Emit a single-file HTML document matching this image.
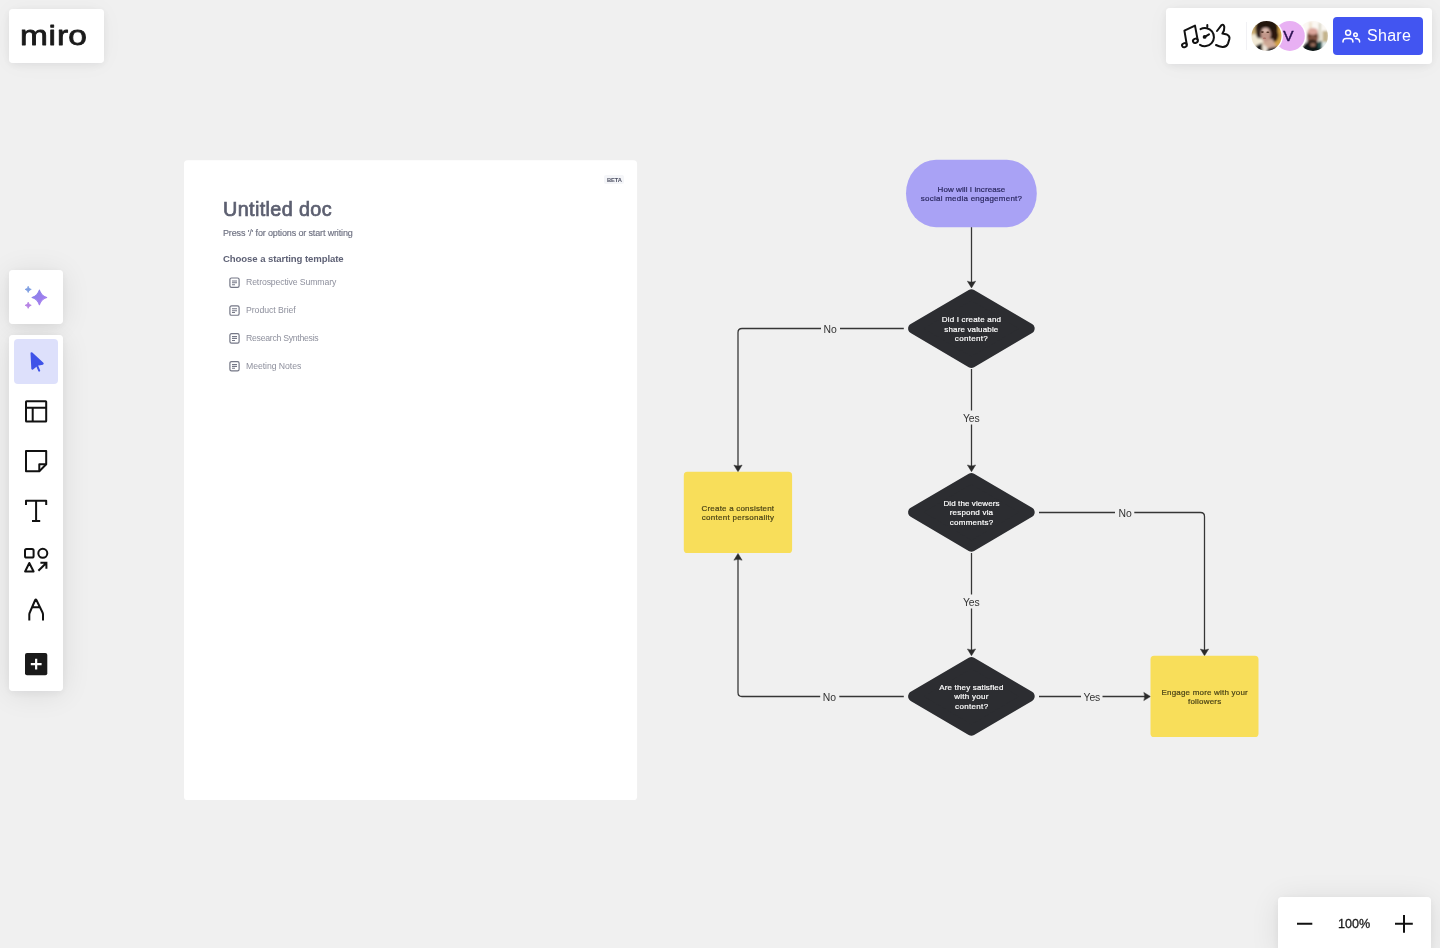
<!DOCTYPE html>
<html lang="en">
<head>
<meta charset="utf-8">
<title>Miro board</title>
<style>
*{box-sizing:border-box;margin:0;padding:0}
html,body{width:1440px;-webkit-font-smoothing:antialiased;height:948px;overflow:hidden;background:#f0f0f0;font-family:"Liberation Sans",sans-serif;}
#stage{position:absolute;left:0;top:0;width:1440px;height:948px;overflow:hidden;background:#f0f0f0}
.abs{position:absolute}
svg,.t{will-change:transform}
.panel{position:absolute;background:#fff;border-radius:4px}
.sh{position:absolute;border-radius:4px;box-shadow:0 2px 10px rgba(5,0,30,.07),0 1px 24px rgba(5,0,30,.035)}
.sh.p2{box-shadow:0 2px 10px rgba(5,0,30,.06),0 3px 30px rgba(5,0,30,.09)}
#canvas{position:absolute;left:0;top:0;width:1440px;height:948px}
.t{position:absolute;white-space:nowrap;line-height:1}
</style>
</head>
<body>
<div id="stage">
<!-- ======== document widget ======== -->
<svg class="abs" style="left:180px;top:156px" width="462" height="648" viewBox="180 156 462 648"><rect x="183.95" y="160.3" width="453.15" height="639.7" rx="3.6" fill="#fff"/></svg>
<div class="abs" style="left:604px;top:175px;width:19.5px;height:9px;background:#f4f5f8;border-radius:2px"></div>
<div class="t" id="beta" style="left:606.6px;top:178px;font-size:5.8px;font-weight:700;color:#4d5063;letter-spacing:-.1px">BETA</div>
<div class="t" id="title" style="left:223.2px;top:199.6px;font-size:19.8px;color:#5c5f70;-webkit-text-stroke:.7px #5c5f70;letter-spacing:.38px">Untitled doc</div>
<div class="t" id="sub" style="left:223px;top:228.5px;font-size:9px;color:#6d7080;-webkit-text-stroke:.15px #6d7080;letter-spacing:-.14px">Press '/' for options or start writing</div>
<div class="t" id="choose" style="left:223.1px;top:254px;font-size:9.6px;font-weight:700;color:#5f6276;letter-spacing:-.1px">Choose a starting template</div>

<svg class="abs" style="left:228px;top:276px" width="14" height="100" viewBox="0 0 14 100">
  <g fill="none" stroke="#747786" stroke-width="1.2">
    <g id="di"><rect x="1.9" y="2" width="9.2" height="9.4" rx="1.6"/><path d="M4 4.9h5M4 6.8h5M4 8.7h3" stroke-width="1.05"/></g>
    <use href="#di" y="27.85"/><use href="#di" y="55.7"/><use href="#di" y="83.55"/>
  </g>
</svg>
<div class="t tpl" style="left:246.4px;top:278.30px;font-size:8.7px;color:#8e909d;letter-spacing:-0.12px">Retrospective Summary</div>
<div class="t tpl" style="left:246.4px;top:306.15px;font-size:8.7px;color:#8e909d;letter-spacing:-0.04px">Product Brief</div>
<div class="t tpl" style="left:246.4px;top:334.00px;font-size:8.7px;color:#8e909d;letter-spacing:-0.27px">Research Synthesis</div>
<div class="t tpl" style="left:246.4px;top:361.85px;font-size:8.7px;color:#8e909d;letter-spacing:-0.06px">Meeting Notes</div>

<!-- ======== flowchart ======== -->
<svg id="canvas" viewBox="0 0 1440 948" width="1440" height="948">
  <defs>
    <path id="ah" d="M0 -.2 L-4.1 -6.9 Q0 -5.1 4.1 -6.9 Z" fill="#2a2a2a" stroke="#2a2a2a" stroke-width=".5" stroke-linejoin="round"/>
  </defs>
  <g fill="none" stroke="#363636" stroke-width="1.28">
    <path d="M971.5 227 V284"/>
    <path d="M971.5 369 V410.6 M971.5 424.4 V468"/>
    <path d="M971.5 553 V594.6 M971.5 608.4 V652"/>
    <path d="M903.8 328.5 H840 M821 328.5 H742 Q738 328.5 738 332.5 V467.5"/>
    <path d="M1039 512.5 H1115 M1134.3 512.5 H1200.5 Q1204.5 512.5 1204.5 516.5 V651.5"/>
    <path d="M903.8 696.5 H839.3 M820.2 696.5 H742 Q738 696.5 738 692.5 V558"/>
    <path d="M1039 696.5 H1081 M1102.5 696.5 H1146.5"/>
  </g>
  <use href="#ah" transform="translate(971.5 288.1)"/>
  <use href="#ah" transform="translate(971.5 471.9)"/>
  <use href="#ah" transform="translate(971.5 655.9)"/>
  <use href="#ah" transform="translate(738 472)"/>
  <use href="#ah" transform="translate(1204.5 656)"/>
  <use href="#ah" transform="translate(738 553.3) rotate(180)"/>
  <use href="#ah" transform="translate(1150.7 696.5) rotate(-90)"/>

  <rect x="906" y="159.75" width="130.8" height="67.4" rx="30" ry="33.7" fill="#a9a2f5"/>
  <g fill="#2c2d31" stroke="#2c2d31" stroke-width="10.6" stroke-linejoin="round">
    <path d="M971.4 294.50 L1029.43 328.55 L971.4 362.60 L913.37 328.55 Z"/>
    <path d="M971.4 478.25 L1029.43 512.3 L971.4 546.35 L913.37 512.3 Z"/>
    <path d="M971.4 662.35 L1029.43 696.4 L971.4 730.45 L913.37 696.4 Z"/>
  </g>
  <rect x="683.8" y="471.8" width="108.3" height="81.2" rx="3.6" fill="#f8de5a"/>
  <rect x="1150.5" y="655.8" width="108" height="81.2" rx="3.6" fill="#f8de5a"/>

  <g font-family="'Liberation Sans',sans-serif" font-size="8" text-anchor="middle" stroke-width=".2">
    <g fill="#2b2860" stroke="#2b2860">
      <text x="971.4" y="191.9" textLength="67.7">How will I increase</text>
      <text x="971.4" y="200.9" textLength="101.2">social media engagement?</text>
    </g>
    <g fill="#fff" stroke="#fff">
      <text x="971.4" y="322" textLength="59.1">Did I create and</text>
      <text x="971.3" y="331.6" textLength="54">share valuable</text>
      <text x="971.3" y="340.9" textLength="32.9">content?</text>
      <text x="971.5" y="506" textLength="56">Did the viewers</text>
      <text x="971.4" y="515.4" textLength="43.3">respond via</text>
      <text x="971.5" y="524.6" textLength="43.6">comments?</text>
      <text x="971.3" y="689.8" textLength="64.2">Are they satisfied</text>
      <text x="971.3" y="699.2" textLength="34">with your</text>
      <text x="971.6" y="708.6" textLength="33">content?</text>
    </g>
    <g fill="#4a4316" stroke="#4a4316">
      <text x="737.8" y="510.9" textLength="72.6">Create a consistent</text>
      <text x="737.9" y="519.9" textLength="72.4">content personality</text>
      <text x="1204.6" y="694.6" textLength="86.3">Engage more with your</text>
      <text x="1204.6" y="703.6" textLength="33.3">followers</text>
    </g>
    <g fill="#333" font-size="10.4" stroke="none">
      <text x="830.2" y="332.5">No</text>
      <text x="1125.1" y="516.5">No</text>
      <text x="829.5" y="700.5">No</text>
      <text x="971.3" y="421.7" textLength="16.6">Yes</text>
      <text x="971.3" y="605.7" textLength="16.6">Yes</text>
      <text x="1091.9" y="700.5" textLength="16.6">Yes</text>
    </g>
  </g>
</svg>

<!-- ======== panel shadows ======== -->
<div class="sh" style="left:9px;top:9px;width:95px;height:54px"></div>
<div class="sh" style="left:1166px;top:8px;width:266px;height:56px"></div>
<div class="sh p2" style="left:9px;top:270px;width:54px;height:54px"></div>
<div class="sh p2" style="left:9px;top:335px;width:54px;height:355.5px"></div>
<div class="sh p2" style="left:1278px;top:897px;width:153px;height:56px"></div>

<!-- ======== logo ======== -->
<div class="panel" style="left:9px;top:9px;width:95px;height:54px"></div>
<svg class="abs" style="left:9px;top:9px" width="95" height="54" viewBox="9 9 95 54"><g transform="translate(0 44.7) scale(1.195 1)"><text id="logo" x="16.74 40.66 47.80 57.07" y="0" font-family="'Liberation Sans',sans-serif" font-size="28" fill="#1a1a1a" stroke="#1a1a1a" stroke-width="0.8" stroke-linejoin="round">miro</text></g></svg>

<!-- ======== top right panel ======== -->
<div class="panel" style="left:1166px;top:8px;width:266px;height:56px"></div>
<svg class="abs" style="left:1174px;top:16px" width="64" height="40" viewBox="0 0 64 40">
  <g fill="none" stroke="#111" stroke-width="2" stroke-linecap="round" stroke-linejoin="round">
    <ellipse cx="10.4" cy="29.2" rx="2.4" ry="2" transform="rotate(-20 10.4 29.2)"/>
    <path d="M12.7 28.2 L10.4 14.7 L21 9.6 L23.6 23.6"/>
    <ellipse cx="21.4" cy="24.8" rx="2.5" ry="2.1" transform="rotate(-20 21.4 24.8)"/>
    <path d="M26.5 13.1 A9.1 9.1 0 1 1 26 28.8"/>
    <path d="M33.3 9 V11"/>
    <path d="M30.8 20.8 L35 18.3"/>
    <path d="M43 15 L47.3 9.3 Q49.6 7.6 50.3 11 Q50.6 14.5 48.4 17.6 L53 18.6 Q56 20 55.4 23 L54 27.6 Q52.5 31.3 48.4 31 Q45 30.6 42 29"/>
  </g>
  <circle cx="30.6" cy="20.9" r="1.9" fill="#111"/>
</svg>
<div class="abs" style="left:1246px;top:22px;width:1px;height:28px;background:#f1f1f4"></div>

<svg class="abs" style="left:1248px;top:18px" width="84" height="36" viewBox="0 0 84 36">
  <defs>
    <clipPath id="c1"><circle cx="15" cy="15" r="15"/></clipPath>
    <filter id="b1" x="-30%" y="-30%" width="160%" height="160%"><feGaussianBlur stdDeviation="0.9"/></filter>
    <filter id="b2" x="-30%" y="-30%" width="160%" height="160%"><feGaussianBlur stdDeviation="0.6"/></filter>
  </defs>
  <!-- avatar 3 -->
  <g transform="translate(50 2.9)" clip-path="url(#c1)">
    <g filter="url(#b1)">
      <rect x="-6" y="-6" width="42" height="42" fill="#fbf8f3"/>
      <rect x="11" y="1" width="3" height="7" fill="#efe3d0"/>
      <rect x="20.8" y="2" width="2.2" height="20" fill="#d5d2c0"/>
      <rect x="24.4" y="10" width="6" height="12" fill="#c4b48c"/>
      <rect x="23.4" y="21" width="8" height="8" fill="#dfeae8"/>
      <path d="M-2 36 L5 25 Q8 20.5 11 20.5 L19 21 L23.8 20.6 L23.8 27.5 L21 36 Z" fill="#0b1615"/>
      <path d="M19.4 21.4 L23.8 20.4 L24 27.6 L20.4 28 Z" fill="#27524f"/>
      <ellipse cx="14.6" cy="16.2" rx="5.9" ry="8.6" fill="#8b5a48"/>
      <ellipse cx="14.8" cy="10.4" rx="5.2" ry="3.4" fill="#dba59b"/>
      <ellipse cx="14.2" cy="21.4" rx="5" ry="3.4" fill="#3b251e"/>
      <ellipse cx="15" cy="24" rx="2.6" ry="1.7" fill="#a37663"/>
      <path d="M10.4 15.2 h3.2 M15.6 15.2 h3.2" stroke="#2e1912" stroke-width="1.4"/>
    </g>
  </g>
  <!-- avatar 2 -->
  <circle cx="41.8" cy="17.9" r="16.6" fill="#fff"/>
  <circle cx="41.8" cy="17.9" r="15" fill="#e8b0f3"/>
  <text x="40.5" y="22.8" font-family="'Liberation Sans',sans-serif" font-size="15.4" fill="#2a1050" stroke="#2a1050" stroke-width=".45" text-anchor="middle">V</text>
  <!-- avatar 1 -->
  <circle cx="18.5" cy="17.9" r="16.4" fill="#fff"/>
  <g transform="translate(3.5 2.9)" clip-path="url(#c1)">
    <g filter="url(#b1)">
      <rect x="-6" y="-6" width="42" height="42" fill="#d3a246"/>
      <path d="M-6 -6 L7 -6 L8 16 L-6 18 Z" fill="#c9ac72"/>
      <path d="M-6 14 L7 13 L13 20 L10 26 L-6 26 Z" fill="#f3ead6"/>
      <ellipse cx="15.2" cy="7.5" rx="11.2" ry="11.5" fill="#24140f"/>
      <ellipse cx="22.4" cy="14.5" rx="4.6" ry="6.4" fill="#2a1811"/>
      <ellipse cx="7.4" cy="12" rx="3" ry="5.6" fill="#33201a"/>
      <path d="M11.5 18 L21 18 L25.5 27 L22 31 L12 31 Z" fill="#cfa996"/>
      <ellipse cx="14.3" cy="13.6" rx="5" ry="7" fill="#c2978a"/>
      <ellipse cx="13.8" cy="9" rx="3.4" ry="2" fill="#dcbcb0"/>
      <path d="M2 36 L4.6 24.6 L10.6 22 L11.6 36 Z" fill="#1c1c1f"/>
      <path d="M10.8 23 L13 24 L18 28.5 L18 36 L11 36 Z" fill="#ede4d9"/>
      <path d="M13 36 L16.4 27.6 L25.6 25.6 L30 36 Z" fill="#18181a"/>
    </g>
    <g filter="url(#b2)">
      <ellipse cx="10.9" cy="11.2" rx="1.5" ry=".8" fill="#4a2d22"/>
      <ellipse cx="16.3" cy="11.4" rx="1.5" ry=".8" fill="#4a2d22"/>
      <ellipse cx="13" cy="17.3" rx="1.6" ry=".6" fill="#a9685d"/>
    </g>
  </g>
</svg>

<div class="abs" style="left:1333px;top:17px;width:90px;height:38px;background:#4255f1;border-radius:4px"></div>
<svg class="abs" style="left:1340px;top:26px" width="24" height="20" viewBox="0 0 24 20">
  <g fill="none" stroke="#fff" stroke-width="1.5" stroke-linecap="round" stroke-linejoin="round">
    <circle cx="8.1" cy="6.8" r="2.5"/>
    <path d="M3 16 V15.6 Q3 12.4 6.2 12.4 H9.7 Q12.9 12.4 12.9 15.6 V16"/>
    <circle cx="15.5" cy="8.8" r="1.75"/>
    <path d="M15.6 12.6 Q19.6 12.6 19.6 16"/>
  </g>
</svg>
<div class="t" id="share" style="left:1366.7px;top:27.5px;font-size:16px;color:#fff;letter-spacing:.3px">Share</div>

<!-- ======== left toolbar ======== -->
<div class="panel p2" style="left:9px;top:270px;width:54px;height:54px"></div>
<svg class="abs" style="left:16px;top:278px" width="40" height="40" viewBox="0 0 40 40">
  <defs>
    <linearGradient id="g1" x1="0" y1="0" x2="1" y2="1"><stop offset="0" stop-color="#7f7fe6"/><stop offset="1" stop-color="#b07ff2"/></linearGradient>
    <path id="st" d="M0 -.94 C.16 -.42 .42 -.16 .94 0 C.42 .16 .16 .42 0 .94 C-.16 .42 -.42 .16 -.94 0 C-.42 -.16 -.16 -.42 0 -.94Z"/>
  </defs>
  <use href="#st" transform="translate(23.4 19.4) scale(7.8)" fill="url(#g1)" stroke="url(#g1)" stroke-width=".14" stroke-linejoin="round"/>
  <use href="#st" transform="translate(12.2 11.4) scale(3.2)" fill="#7f9fe2" stroke="#7f9fe2" stroke-width=".3" stroke-linejoin="round"/>
  <use href="#st" transform="translate(12.2 27.3) scale(3.2)" fill="#b682e4" stroke="#b682e4" stroke-width=".3" stroke-linejoin="round"/>
</svg>

<div class="panel p2" style="left:9px;top:335px;width:54px;height:355.5px"></div>
<div class="abs" style="left:13.5px;top:339px;width:44.5px;height:45px;border-radius:4px;background:#dde0fb"></div>
<svg class="abs" style="left:0;top:335px" width="72" height="356" viewBox="0 335 72 356">
  <!-- cursor -->
  <path d="M31.6 353.3 L42.6 363.6 L37.3 364.7 L32.4 368.6 Z" fill="#3f53e8" stroke="#3f53e8" stroke-width="2.2" stroke-linejoin="round"/>
  <path d="M37 365.5 L39.2 370.6" stroke="#3f53e8" stroke-width="2" stroke-linecap="round" fill="none"/>
  <g fill="none" stroke="#111" stroke-width="2" stroke-linejoin="round">
    <!-- templates -->
    <rect x="26" y="401.2" width="20.2" height="20.4" rx=".6"/>
    <path d="M26 407.8 H46 M32.7 407.8 V421.5"/>
    <!-- sticky -->
    <path d="M26 451 H46.2 V464.3 L39.3 471.2 H26 Z"/>
    <path d="M46.2 464.3 H39.3 V471.2"/>
    <!-- text -->
    <path d="M26 505 V500.8 H46.2 V505 M36.1 500.8 V521 M32 521 H40.2" stroke-linecap="butt"/>
    <!-- shapes -->
    <rect x="25" y="549" width="8.6" height="8.6" rx="1.6"/>
    <circle cx="42.8" cy="553.3" r="4.5"/>
    <path d="M29.3 563 L33.6 571.5 H25.1 Z"/>
    <path d="M38.4 570.8 L46 563.2 M40.4 562.8 H46.4 V568.8" stroke-linejoin="miter"/>
    <!-- pen -->
    <path d="M29.3 620.4 V614.6 Q29.3 613.4 30 612 L35.2 600 Q35.8 599 36.4 600 L42.3 612 Q43 613.4 43 614.6 V620.4 M32.6 607.3 H39.6" stroke-linecap="butt"/>
  </g>
  <!-- plus -->
  <rect x="25" y="653" width="22.3" height="22.3" rx="2" fill="#1a1a1a"/>
  <path d="M36.15 658.8 V669.6 M30.8 664.2 H41.6" stroke="#fff" stroke-width="2.2" fill="none"/>
</svg>

<!-- ======== zoom panel ======== -->
<div class="panel p2" style="left:1278px;top:897px;width:153px;height:51px;border-radius:4px 4px 0 0"></div>
<svg class="abs" style="left:1290px;top:905px" width="130" height="40" viewBox="1290 905 130 40">
  <path d="M1297 923.8 H1312.3 M1395 923.8 H1412.8 M1404 915 V932.8" stroke="#111" stroke-width="2" fill="none"/>
</svg>
<div class="t" id="zoom" style="left:1337.8px;top:918px;font-size:12.6px;color:#1a1a1a;-webkit-text-stroke:.3px #1a1a1a;letter-spacing:0">100%</div>
</div>
</body>
</html>
